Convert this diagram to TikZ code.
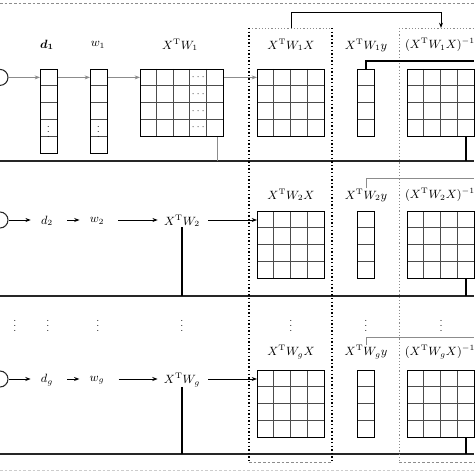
\documentclass[tikz,border=0pt]{standalone}
\usetikzlibrary{arrows.meta,calc}
\tikzset{
  lab/.style={inner sep=0pt, font=\small},
  blab/.style={inner sep=0pt, font=\small},
  cellbox/.style={draw=black, line width=0.8pt, inner sep=0pt},
  gridline/.style={draw=black!70, line width=0.6pt},
  sepline/.style={line width=1.1pt, black!85},
  tip/.style={-{Stealth[length=4pt,width=3pt]}},
  greyline/.style={draw=black!45, line width=0.5pt},
  blackline/.style={draw=black, line width=0.7pt},
  src/.style={circle, draw=black!85, line width=0.8pt, minimum size=12pt, inner sep=0pt},
  heavydots/.style={draw=black, line width=1.3pt, dash pattern=on 1.1pt off 1.6pt},
  lightdots/.style={draw=black!45, line width=0.6pt, dash pattern=on 0.9pt off 1.5pt},
  lightdash/.style={draw=black!45, line width=0.5pt, dash pattern=on 2pt off 1.5pt},
  faintdash/.style={draw=black!20, line width=0.5pt, dash pattern=on 2pt off 1.5pt},
  dotlab/.style={inner sep=0pt, font=\scriptsize},
}
\newcommand{\gridmat}[7]{%
  \foreach \i in {0,...,#4}{\draw[gridline] (#2+\i*#6,#3) -- (#2+\i*#6,#3+#5*#7);}
  \foreach \j in {0,...,#5}{\draw[gridline] (#2,#3+\j*#7) -- (#2+#4*#6,#3+\j*#7);}
  \node[cellbox, anchor=north west, minimum width=#4*#6*0.75pt, minimum height=#5*#7*0.75pt] (#1) at (#2,#3) {};
}
\begin{document}
\begin{tikzpicture}[x=0.75pt,y=-0.75pt]
\useasboundingbox (0,0) rectangle (474,474);

% frame lines
\coordinate (tl) at (0,3); \coordinate (tr) at (474,3);
\draw[lightdash] (tl) -- (tr);
\coordinate (bl) at (0,470); \coordinate (br) at (474,470);
\draw[faintdash] (bl) -- (br);

% separators
\coordinate (s1l) at (0,161); \coordinate (s1r) at (474,161);
\coordinate (s2l) at (0,296); \coordinate (s2r) at (474,296);
\coordinate (s3l) at (0,454); \coordinate (s3r) at (474,454);
\draw[sepline] (s1l) -- (s1r);
\draw[sepline] (s2l) -- (s2r);
\draw[sepline] (s3l) -- (s3r);

% dotted boxes
\coordinate (Atl) at (249,28); \coordinate (Atr) at (332,28);
\coordinate (Abl) at (249,462); \coordinate (Abr) at (332,462);
\draw[lightdots] (Atl) -- (Atr);
\draw[lightdash] (Abl) -- (Abr);
\draw[heavydots] (Atl) -- (Abl);
\draw[heavydots] (Atr) -- (Abr);
\coordinate (Btl) at (399,28); \coordinate (Btr) at (474,28);
\coordinate (Bbl) at (399,462); \coordinate (Bbr) at (474,462);
\draw[lightdots] (Btl) -- (Btr);
\draw[lightdash] (Bbl) -- (Bbr);
\draw[lightdots] (Btl) -- (Bbl);

% top connector
\coordinate (Atop) at (291,28); \coordinate (Bend) at (291,12); \coordinate (Btop) at (441,28);
\draw[blackline, tip] (Atop) -- (Bend) -| (Btop);

% ===== Row 1 =====
\node[src] (c1) at (0,77.4) {};
\node[lab, font=\small\boldmath] (l_d1) at (47,45) {$d_1$};
\node[lab] (l_w1) at (98,45) {$w_1$};
\node[blab] (l_m1) at (180,45) {$X^{\mathrm{T}}W_1$};
\node[blab] (l_a1) at (291,45) {$X^{\mathrm{T}}W_1X$};
\node[blab] (l_b1) at (366,45) {$X^{\mathrm{T}}W_1y$};
\node[blab] (l_c1) at (440,45) {$(X^{\mathrm{T}}W_1X)^{-1}$};

\gridmat{d1}{40}{69}{1}{5}{17}{16.8}
\gridmat{w1}{90}{69}{1}{5}{17}{16.8}
\gridmat{m1}{140}{69}{5}{4}{16.6}{16.75}
\gridmat{a1}{257}{69}{4}{4}{16.75}{16.75}
\gridmat{b1}{357}{69}{1}{4}{17}{16.75}
\gridmat{k1}{407}{69}{4}{4}{16.75}{16.75}

\node[dotlab] (dd1) at (48.5,128) {$\vdots$};
\node[dotlab] (dw1) at (98.5,128) {$\vdots$};
\foreach \r in {1,...,4}{\node[dotlab, text=black!80] (dm1\r) at (198.3,{69+(\r-0.5)*16.75}) {$\cdots$};}

\draw[greyline, tip] (c1.east) -- (d1.west |- c1);
\draw[greyline, tip] (d1.east |- c1) -- (w1.west |- c1);
\draw[greyline, tip] (w1.east |- c1) -- (m1.west |- c1);
\draw[greyline, tip] (m1.east |- c1) -- (a1.west |- c1);
\coordinate (v1a) at (217,161);
\draw[greyline] (m1.south -| v1a) -- (v1a);
\coordinate (e1) at (474,61);
\draw[line width=1pt] (b1.north) |- (e1);
\coordinate (v1b) at (466,161);
\draw[line width=0.9pt] (k1.south -| v1b) -- (v1b);

% ===== Row 2 =====
\node[src] (c2) at (0,220) {};
\node[lab] (d2) at (47,221) {$d_2$};
\node[lab] (w2) at (97,221) {$w_2$};
\node[lab] (t2) at (182,221) {$X^{\mathrm{T}}W_2$};
\draw[blackline, tip, shorten >=7.5pt] (c2.east) -- (d2.west |- c2);
\draw[blackline, tip, shorten <=10.5pt, shorten >=7.5pt] (d2.east |- c2) -- (w2.west |- c2);
\draw[blackline, tip, shorten <=10.5pt, shorten >=4.5pt] (w2.east |- c2) -- (t2.west |- c2);
\gridmat{a2}{257}{211}{4}{4}{16.75}{16.75}
\gridmat{b2}{357}{211}{1}{4}{17}{16.75}
\gridmat{k2}{407}{211}{4}{4}{16.75}{16.75}
\draw[blackline, tip, shorten <=6pt] (t2.east |- c2) -- (a2.west |- c2);
\draw[blackline, line width=0.9pt] (t2.south) -- (t2.south |- s2l);
\node[blab] (l_a2) at (291,195) {$X^{\mathrm{T}}W_2X$};
\node[blab] (l_b2) at (366,195) {$X^{\mathrm{T}}W_2y$};
\node[blab] (l_c2) at (440,195) {$(X^{\mathrm{T}}W_2X)^{-1}$};
\coordinate (e2) at (474,178);
\draw[greyline] (l_b2.north) |- (e2);
\coordinate (v2b) at (466,296);
\draw[line width=0.9pt] (k2.south -| v2b) -- (v2b);

% ===== vertical dots =====
\foreach \x/\n in {15/a,48/b,98/c,182/d,291/e,366/f,441/g}{\node[dotlab] (vd\n) at (\x,322) {$\vdots$};}

% ===== Row 3 =====
\node[src] (c3) at (0,379) {};
\node[lab] (d3) at (47,380) {$d_g$};
\node[lab] (w3) at (97,380) {$w_g$};
\node[lab] (t3) at (182,380) {$X^{\mathrm{T}}W_g$};
\draw[blackline, tip, shorten >=7.5pt] (c3.east) -- (d3.west |- c3);
\draw[blackline, tip, shorten <=10.5pt, shorten >=7.5pt] (d3.east |- c3) -- (w3.west |- c3);
\draw[blackline, tip, shorten <=10.5pt, shorten >=4.5pt] (w3.east |- c3) -- (t3.west |- c3);
\gridmat{a3}{257}{370}{4}{4}{16.75}{16.75}
\gridmat{b3}{357}{370}{1}{4}{17}{16.75}
\gridmat{k3}{407}{370}{4}{4}{16.75}{16.75}
\draw[blackline, tip, shorten <=6pt] (t3.east |- c3) -- (a3.west |- c3);
\draw[blackline, line width=0.9pt] (t3.south) -- (t3.south |- s3l);
\node[blab] (l_a3) at (291,352) {$X^{\mathrm{T}}W_gX$};
\node[blab] (l_b3) at (366,352) {$X^{\mathrm{T}}W_gy$};
\node[blab] (l_c3) at (440,352) {$(X^{\mathrm{T}}W_gX)^{-1}$};
\coordinate (e3) at (474,337);
\draw[greyline] (l_b3.north) |- (e3);
\coordinate (v3b) at (466,454);
\draw[line width=0.9pt] (k3.south -| v3b) -- (v3b);
\end{tikzpicture}
\end{document}
